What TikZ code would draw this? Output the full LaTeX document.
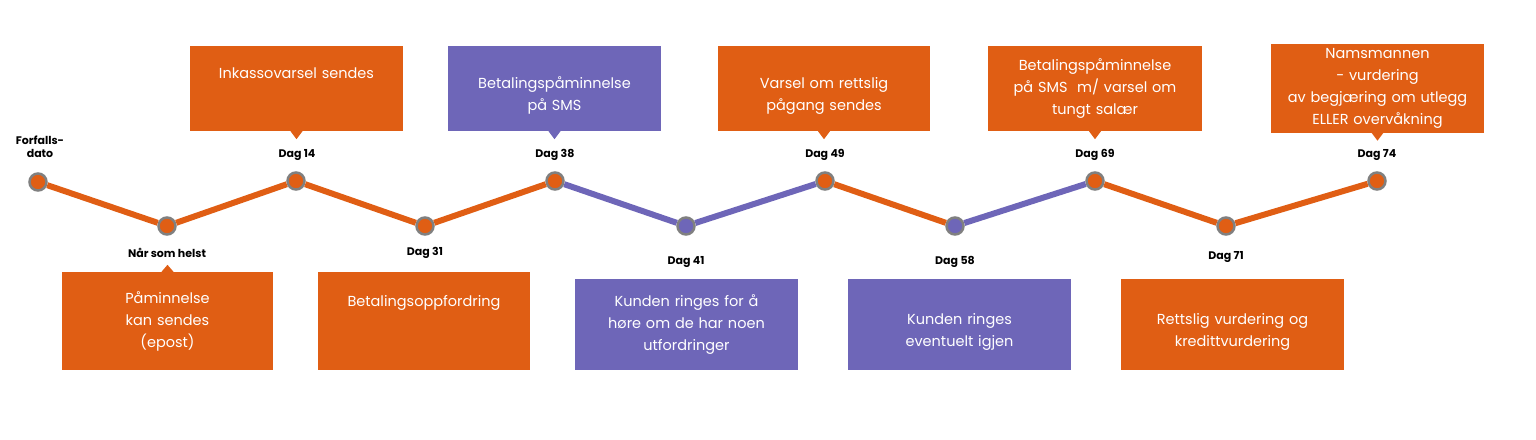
\documentclass[tikz,border=0pt]{standalone}
\usepackage{fontspec}
\setmainfont{Poppins}
\definecolor{mainorange}{HTML}{E05E14}
\definecolor{mainpurple}{HTML}{6E66B8}
\definecolor{dotgray}{HTML}{808080}
\tikzset{
  dot/.style = {circle, draw = dotgray, line width = 2.5pt, minimum size = 17pt, inner sep = 0pt},
  card/.style = {rectangle, text = white, text width = 190pt, align = center, inner sep = 4pt,
                 font = \fontsize{14.5}{22}\selectfont},
  day/.style = {font = \fontsize{11}{13}\selectfont\bfseries, align = center},
  link/.style = {line width = 6pt}
}
\begin{document}
\begin{tikzpicture}[x = 1pt, y = -1pt]
        \useasboundingbox (0, 0) rectangle (1536, 439);
        % Points
        \node [dot, fill = mainorange] (p0) at (38, 182) {};
        \node [dot, fill = mainorange] (p1) at (167, 226) {};
        \node [dot, fill = mainorange] (p2) at (296, 181) {};
        \node [dot, fill = mainorange] (p3) at (425, 226) {};
        \node [dot, fill = mainorange] (p4) at (555, 181) {};
        \node [dot, fill = mainpurple] (p5) at (686, 226) {};
        \node [dot, fill = mainorange] (p6) at (825, 181) {};
        \node [dot, fill = mainpurple] (p7) at (955, 226) {};
        \node [dot, fill = mainorange] (p8) at (1095, 181) {};
        \node [dot, fill = mainorange] (p9) at (1226, 226) {};
        \node [dot, fill = mainorange] (p10) at (1377, 181) {};

        % Draw the links
        \begin{scope}[on background layer/.style = {}]
        \draw [link, mainorange] (p0) -- (p1);
        \draw [link, mainorange] (p1) -- (p2);
        \draw [link, mainorange] (p2) -- (p3);
        \draw [link, mainorange] (p3) -- (p4);
        \draw [link, mainpurple] (p4) -- (p5);
        \draw [link, mainpurple] (p5) -- (p6);
        \draw [link, mainorange] (p6) -- (p7);
        \draw [link, mainpurple] (p7) -- (p8);
        \draw [link, mainorange] (p8) -- (p9);
        \draw [link, mainorange] (p9) -- (p10);
        \end{scope}

        % Day labels
        \node [day] (d0) at (40, 147) {Forfalls-\\dato};
        \node [day] (d1) at (167, 253) {Når som helst};
        \node [day] (d2) at (297, 155) {Dag 14};
        \node [day] (d3) at (425, 253) {Dag 31};
        \node [day] (d4) at (555, 155) {Dag 38};
        \node [day] (d5) at (686, 262) {Dag 41};
        \node [day] (d6) at (825, 155) {Dag 49};
        \node [day] (d7) at (955, 262) {Dag 58};
        \node [day] (d8) at (1095, 155) {Dag 69};
        \node [day] (d9) at (1226, 257) {Dag 71};
        \node [day] (d10) at (1377, 155) {Dag 74};

        % Boxes
        \node [card, fill = mainorange, minimum width = 211pt, minimum height = 98pt] (b1) at (167.5, 321) {Påminnelse\\kan sendes\\(epost)};
        \node [card, fill = mainorange, minimum width = 213pt, minimum height = 85pt, text depth = 30pt] (b2) at (296.5, 88.5) {Inkassovarsel sendes};
        \node [card, fill = mainorange, minimum width = 212pt, minimum height = 98pt, text depth = 40pt] (b3) at (424, 321) {Betalingsoppfordring};
        \node [card, fill = mainpurple, minimum width = 213pt, minimum height = 85pt, text depth = 12pt] (b4) at (554.5, 88.5) {Betalingspåminnelse\\på SMS};
        \node [card, fill = mainpurple, minimum width = 223pt, minimum height = 91pt] (b5) at (686.5, 324.5) {Kunden ringes for å\\høre om de har noen\\utfordringer};
        \node [card, fill = mainorange, minimum width = 212pt, minimum height = 85pt, text depth = 12pt] (b6) at (824, 88.5) {Varsel om rettslig\\pågang sendes};
        \node [card, fill = mainpurple, minimum width = 223pt, minimum height = 91pt, text depth = 12pt] (b7) at (959.5, 324.5) {Kunden ringes\\eventuelt igjen};
        \node [card, fill = mainorange, minimum width = 214pt, minimum height = 85pt] (b8) at (1095, 88.5) {Betalingspåminnelse\\på SMS\ \ m/ varsel om\\tungt salær};
        \node [card, fill = mainorange, minimum width = 223pt, minimum height = 91pt, text depth = 12pt] (b9) at (1232.5, 324.5) {Rettslig vurdering og\\kredittvurdering};
        \node [card, fill = mainorange, minimum width = 213pt, minimum height = 85pt] (b10) at (1377.5, 88.5) {Namsmannen - vurdering\\av begjæring om utlegg\\ELLER overvåkning};

        % Pointers
        \fill [mainorange] ([xshift = -6pt]b1.north) -- ([xshift = 6pt]b1.north) -- ([yshift = 7pt]b1.north) -- cycle;
        \fill [mainorange] ([xshift = -6pt]b2.south) -- ([xshift = 6pt]b2.south) -- ([yshift = -8pt]b2.south) -- cycle;
        \fill [mainpurple] ([xshift = -6pt]b4.south) -- ([xshift = 6pt]b4.south) -- ([yshift = -8pt]b4.south) -- cycle;
        \fill [mainorange] ([xshift = -6pt]b6.south) -- ([xshift = 6pt]b6.south) -- ([yshift = -8pt]b6.south) -- cycle;
        \fill [mainorange] ([xshift = -6pt]b8.south) -- ([xshift = 6pt]b8.south) -- ([yshift = -8pt]b8.south) -- cycle;
        \fill [mainorange] ([xshift = -6pt]b10.south) -- ([xshift = 6pt]b10.south) -- ([yshift = -8pt]b10.south) -- cycle;
    \end{tikzpicture}
\end{document}
